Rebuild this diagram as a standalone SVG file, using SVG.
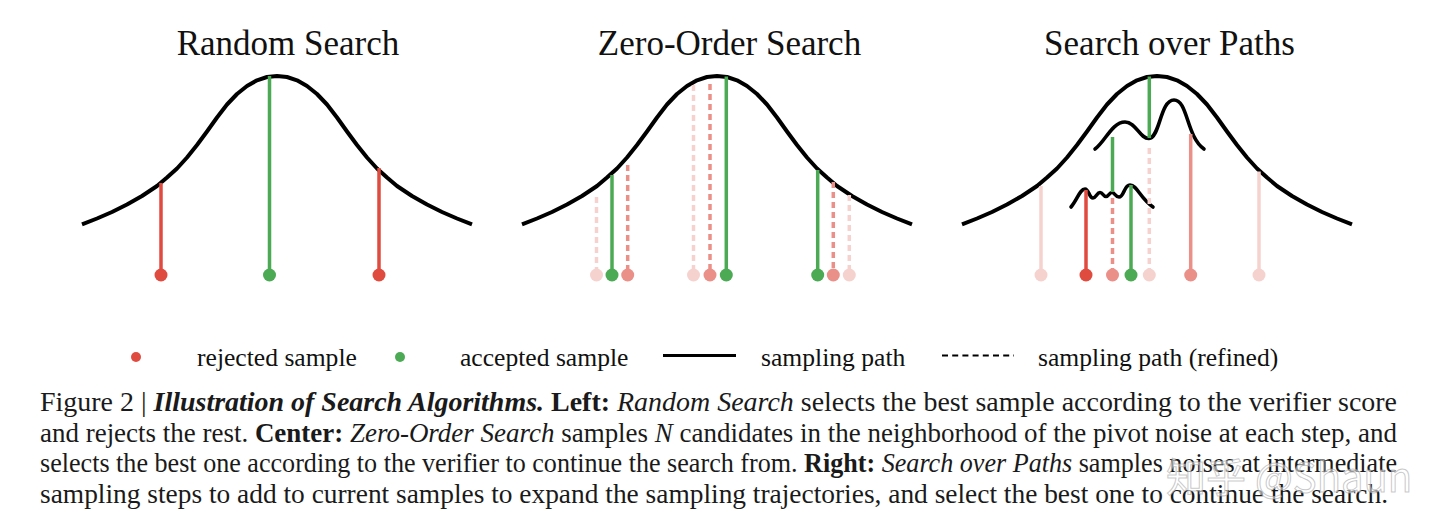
<svg xmlns="http://www.w3.org/2000/svg" width="1440" height="530" viewBox="0 0 1440 530">
<style>
.curve{fill:none;stroke:#000;stroke-width:4;stroke-linejoin:round}
.small{fill:none;stroke:#000;stroke-width:3.6;stroke-linejoin:round;stroke-linecap:round}
line.s{stroke-width:3.5}
.dash{stroke-dasharray:6 4}
.r line{stroke:#e04b3f}.r circle{fill:#e04b3f}
.g line{stroke:#4caa55}.g circle{fill:#4caa55}
.m line{stroke:#eb9088}.m circle{fill:#eb9088}
.l line{stroke:#f6d2cf}.l circle{fill:#f6d2cf}
.title{font-family:"Liberation Serif","Times New Roman",serif;font-size:35px;text-anchor:middle;fill:#111}
.leg{font-family:"Liberation Serif","Times New Roman",serif;font-size:25.6px;fill:#111}
.cap{font-family:"Liberation Serif","Times New Roman",serif;font-size:26.5px;fill:#1a1a1a}
.b{font-weight:bold}.i{font-style:italic}.bi{font-weight:bold;font-style:italic}
.wm{font-family:"Noto Sans CJK SC","Noto Sans",sans-serif;font-size:40px;fill:#ffffff;fill-opacity:0.55;stroke:#9a9a9a;stroke-opacity:0.55;stroke-width:1}
</style>
<defs>
<polyline id="bell" class="curve" points="-195,224.3 -180,218.5 -165,212 -150,204.5 -135,196 -120,186 -110,177.5 -100,168.5 -90,157.5 -80,145 -70,131.5 -60,117.5 -50,104.5 -40,94 -30,86 -20,80.3 -10,77 0,76 10,77 20,80.3 30,86 40,94 50,104.5 60,117.5 70,131.5 80,145 90,157.5 100,168.5 110,177.5 120,186 135,196 150,204.5 165,212 180,218.5 195,224.3"/>
</defs>
<rect width="1440" height="530" fill="#fff"/>

<g id="titles">
<text class="title" x="288" y="55">Random Search</text>
<text class="title" x="729.5" y="55">Zero-Order Search</text>
<text class="title" x="1169.5" y="55">Search over Paths</text>
</g>

<g id="panel-random">
<use href="#bell" transform="translate(277,0)"/>
<g class="r"><line class="s" x1="161" y1="183" x2="161" y2="275"/><circle cx="161" cy="275" r="6.5"/></g>
<g class="g"><line class="s" x1="269.5" y1="76" x2="269.5" y2="275"/><circle cx="269.5" cy="275" r="6.5"/></g>
<g class="r"><line class="s" x1="379" y1="168" x2="379" y2="275"/><circle cx="379" cy="275" r="6.5"/></g>
</g>

<g id="panel-zero-order">
<use href="#bell" transform="translate(717,0)"/>
<g class="l"><line class="s dash" x1="596.5" y1="197" x2="596.5" y2="275"/><circle cx="596.5" cy="275" r="6.5"/></g>
<g class="g"><line class="s" x1="612" y1="175" x2="612" y2="275"/><circle cx="612" cy="275" r="6.5"/></g>
<g class="m"><line class="s dash" x1="627.7" y1="165" x2="627.7" y2="275"/><circle cx="627.7" cy="275" r="6.5"/></g>
<g class="l"><line class="s dash" x1="693.5" y1="85" x2="693.5" y2="275"/><circle cx="693.5" cy="275" r="6.5"/></g>
<g class="m"><line class="s dash" x1="710" y1="84" x2="710" y2="275"/><circle cx="710" cy="275" r="6.5"/></g>
<g class="g"><line class="s" x1="726.3" y1="76.5" x2="726.3" y2="275"/><circle cx="726.3" cy="275" r="6.5"/></g>
<g class="g"><line class="s" x1="817.7" y1="170" x2="817.7" y2="275"/><circle cx="817.7" cy="275" r="6.5"/></g>
<g class="m"><line class="s dash" x1="833.3" y1="182" x2="833.3" y2="275"/><circle cx="833.3" cy="275" r="6.5"/></g>
<g class="l"><line class="s dash" x1="849.3" y1="195" x2="849.3" y2="275"/><circle cx="849.3" cy="275" r="6.5"/></g>
</g>

<g id="panel-paths">
<use href="#bell" transform="translate(1157,0)"/>
<path class="small" d="M1095,149 C1105,142 1112,122 1125,122 C1136,122 1140,139 1149,138.5 C1160,138 1160,100 1174,100 C1188,100 1186,136 1204,149"/>
<path class="small" d="M1071,207 C1077,200 1080,189 1085,189 C1089,189 1089,198 1093,198 C1096,198 1097,192.5 1100,192.5 C1103,192.5 1103,196.5 1106,196.5 C1109,196.5 1109,192.5 1112,192.5 C1115,192.5 1115,197 1119,197 C1124,197 1124,185 1130,185 C1137,185 1140,198 1153,207"/>
<g class="l"><line class="s" x1="1041" y1="186" x2="1041" y2="275"/><circle cx="1041" cy="275" r="6.5"/></g>
<g class="r"><line class="s" x1="1086" y1="190" x2="1086" y2="275"/><circle cx="1086" cy="275" r="6.5"/></g>
<g class="g"><line class="s" x1="1112.5" y1="137" x2="1112.5" y2="192"/></g>
<g class="m"><line class="s dash" x1="1112.5" y1="198" x2="1112.5" y2="275"/><circle cx="1112.5" cy="275" r="6.5"/></g>
<g class="g"><line class="s" x1="1131" y1="185" x2="1131" y2="275"/><circle cx="1131" cy="275" r="6.5"/></g>
<g class="g"><line class="s" x1="1149.3" y1="76.5" x2="1149.3" y2="138"/></g>
<g class="l"><line class="s dash" x1="1149.3" y1="148" x2="1149.3" y2="275"/><circle cx="1149.3" cy="275" r="6.5"/></g>
<g class="m"><line class="s" x1="1190.7" y1="134" x2="1190.7" y2="275"/><circle cx="1190.7" cy="275" r="6.5"/></g>
<g class="l"><line class="s" x1="1259" y1="171.5" x2="1259" y2="275"/><circle cx="1259" cy="275" r="6.5"/></g>
</g>

<g id="legend">
<g class="r"><circle cx="136" cy="357" r="5"/></g>
<text class="leg" x="197" y="366">rejected sample</text>
<g class="g"><circle cx="400" cy="357" r="5"/></g>
<text class="leg" x="460" y="366">accepted sample</text>
<line x1="663" y1="355.5" x2="736" y2="355.5" stroke="#000" stroke-width="3"/>
<text class="leg" x="761" y="366">sampling path</text>
<line x1="942" y1="355.5" x2="1014" y2="355.5" stroke="#000" stroke-width="2" stroke-dasharray="6 4.2"/>
<text class="leg" x="1038" y="366">sampling path (refined)</text>
</g>

<g id="caption">
<text class="cap" x="40" y="411" textLength="1357" lengthAdjust="spacingAndGlyphs">Figure 2 | <tspan class="bi">Illustration of Search Algorithms.</tspan> <tspan class="b">Left:</tspan> <tspan class="i">Random Search</tspan> selects the best sample according to the verifier score</text>
<text class="cap" x="40" y="441.5" textLength="1357" lengthAdjust="spacingAndGlyphs">and rejects the rest. <tspan class="b">Center:</tspan> <tspan class="i">Zero-Order Search</tspan> samples <tspan class="i">N</tspan> candidates in the neighborhood of the pivot noise at each step, and</text>
<text class="cap" x="40" y="472" textLength="1357" lengthAdjust="spacingAndGlyphs">selects the best one according to the verifier to continue the search from. <tspan class="b">Right:</tspan> <tspan class="i">Search over Paths</tspan> samples noises at intermediate</text>
<text class="cap" x="40" y="502.5" textLength="1348" lengthAdjust="spacingAndGlyphs">sampling steps to add to current samples to expand the sampling trajectories, and select the best one to continue the search.</text>
</g>

<g id="watermark">
<text class="wm" x="1166" y="492">知乎 @Shaun</text>
</g>
</svg>
